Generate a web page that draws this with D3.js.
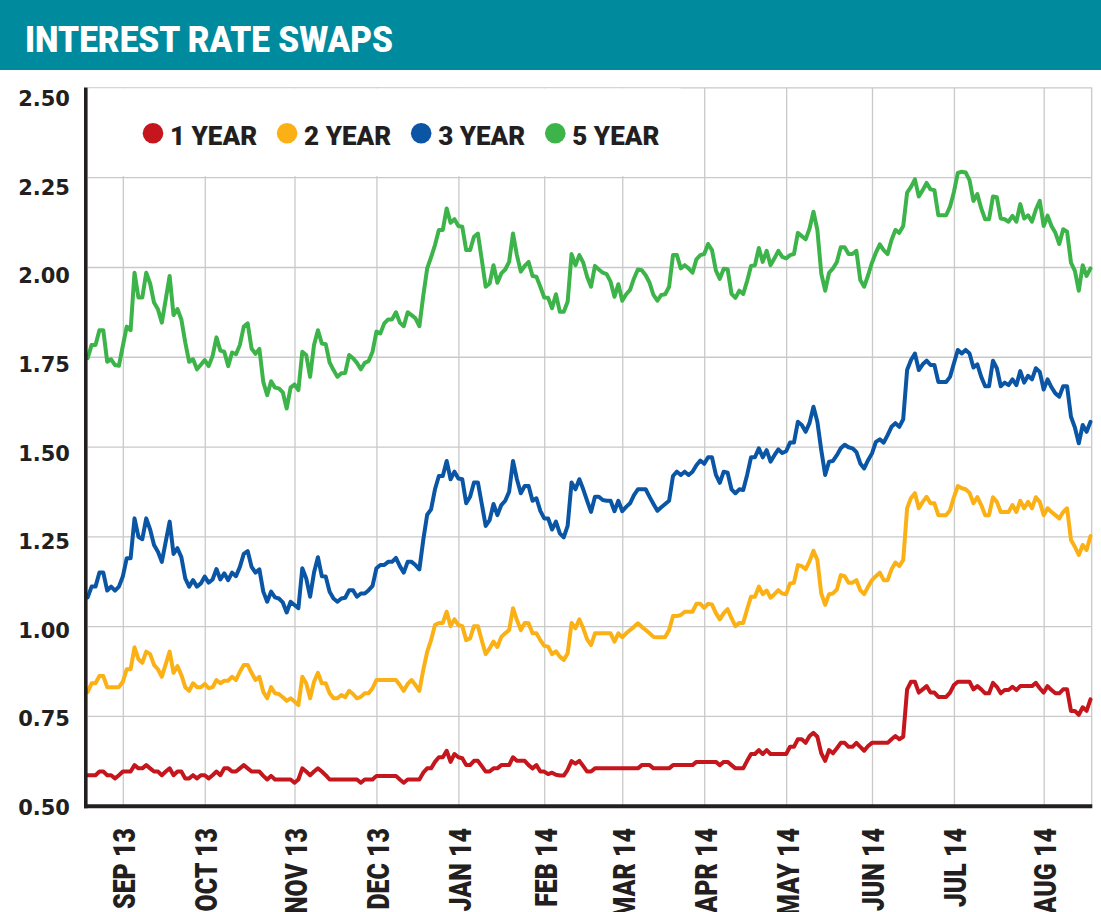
<!DOCTYPE html>
<html>
<head>
<meta charset="utf-8">
<title>Interest rate swaps</title>
<style>
  body { margin: 0; background: #fff; }
  .grid line { stroke: #c9c9c9; stroke-width: 1.3px; }
  .grid path { display: none; }
  .rate { fill: none; stroke-width: 4px; stroke-linejoin: round; stroke-linecap: round; }
  .ylab { font-family: "DejaVu Sans", sans-serif; font-weight: bold; font-size: 21px; fill: #231f20; }
  .xlab { font-family: Roboto, sans-serif; font-weight: 900; font-size: 32px; fill: #231f20; }
  .leg { font-family: Roboto, sans-serif; font-weight: 900; font-size: 26px; fill: #231f20; }
  .title { font-family: Roboto, sans-serif; font-weight: 900; font-size: 36px; fill: #fff; }
</style>
<script src="https://d3js.org/d3.v7.min.js"></script>
</head>
<body>
<svg id="chart"></svg>
<script>
// trading-day index of the first day of each month
var monthIdx = [9, 30, 53, 74, 95, 117, 137, 158, 179, 201, 222, 245];
var monthLabels = ["SEP 13","OCT 13","NOV 13","DEC 13","JAN 14","FEB 14","MAR 14","APR 14","MAY 14","JUN 14","JUL 14","AUG 14"];
var yTicks = [0.50, 0.75, 1.00, 1.25, 1.50, 1.75, 2.00, 2.25, 2.50];

var seriesNames = ["1 YEAR", "2 YEAR", "3 YEAR", "5 YEAR"];
var seriesColors = ["#c4161c", "#fbb116", "#0a56a5", "#3cb44a"];

// one value per trading day
var rate1 = [
0.585,0.585,0.585,0.595,0.595,0.585,0.585,0.576,0.585,0.595,
0.595,0.595,0.613,0.604,0.604,0.613,0.604,0.595,0.595,0.585,
0.595,0.604,0.585,0.595,0.595,0.576,0.576,0.585,0.576,0.585,
0.585,0.576,0.585,0.595,0.585,0.604,0.604,0.595,0.595,0.604,
0.613,0.604,0.595,0.595,0.595,0.583,0.573,0.583,0.573,0.573,
0.573,0.573,0.573,0.564,0.573,0.604,0.595,0.585,0.595,0.604,
0.595,0.585,0.573,0.573,0.573,0.573,0.573,0.573,0.573,0.573,
0.564,0.573,0.573,0.573,0.583,0.583,0.583,0.583,0.583,0.583,
0.573,0.564,0.573,0.573,0.573,0.573,0.592,0.604,0.604,0.622,
0.635,0.635,0.653,0.622,0.644,0.635,0.632,0.613,0.613,0.625,
0.625,0.610,0.595,0.595,0.604,0.604,0.613,0.613,0.613,0.635,
0.625,0.625,0.625,0.613,0.604,0.613,0.595,0.595,0.588,0.592,
0.586,0.584,0.584,0.600,0.624,0.617,0.625,0.610,0.595,0.595,
0.604,0.604,0.604,0.604,0.604,0.604,0.604,0.604,0.604,0.604,
0.604,0.604,0.613,0.613,0.613,0.604,0.604,0.604,0.604,0.604,
0.613,0.613,0.613,0.613,0.613,0.613,0.622,0.622,0.622,0.622,
0.622,0.622,0.613,0.622,0.622,0.613,0.604,0.604,0.604,0.625,
0.644,0.644,0.655,0.644,0.655,0.644,0.644,0.644,0.644,0.644,
0.664,0.664,0.685,0.685,0.675,0.694,0.703,0.692,0.646,0.625,
0.655,0.646,0.660,0.675,0.675,0.664,0.664,0.675,0.664,0.653,
0.666,0.675,0.675,0.675,0.675,0.675,0.685,0.694,0.685,0.692,
0.824,0.845,0.845,0.815,0.824,0.833,0.815,0.815,0.803,0.803,
0.803,0.815,0.836,0.845,0.845,0.845,0.845,0.824,0.833,0.824,
0.813,0.813,0.842,0.831,0.813,0.822,0.822,0.831,0.822,0.833,
0.833,0.833,0.833,0.842,0.827,0.815,0.833,0.822,0.813,0.813,
0.824,0.824,0.764,0.764,0.753,0.774,0.764,0.796];

var rate2 = [
0.817,0.841,0.841,0.861,0.861,0.830,0.830,0.830,0.830,0.845,
0.880,0.880,0.941,0.908,0.898,0.929,0.922,0.892,0.880,0.859,
0.894,0.929,0.870,0.889,0.864,0.830,0.820,0.841,0.830,0.830,
0.839,0.827,0.830,0.850,0.841,0.848,0.848,0.859,0.850,0.873,
0.892,0.892,0.870,0.850,0.859,0.817,0.799,0.830,0.813,0.811,
0.802,0.792,0.799,0.790,0.780,0.859,0.841,0.799,0.845,0.870,
0.841,0.841,0.813,0.799,0.799,0.808,0.802,0.820,0.811,0.799,
0.803,0.813,0.813,0.827,0.850,0.850,0.850,0.850,0.850,0.850,
0.836,0.820,0.839,0.850,0.836,0.820,0.878,0.928,0.961,1.003,
1.009,1.009,1.040,1.000,1.019,1.003,1.000,0.961,0.966,1.000,
1.000,0.960,0.922,0.938,0.957,0.942,0.970,0.980,0.989,1.050,
1.017,0.989,1.009,1.008,0.980,0.980,0.961,0.945,0.943,0.922,
0.930,0.915,0.906,0.924,1.009,0.994,1.019,0.994,0.963,0.947,
0.980,0.980,0.980,0.980,0.980,0.957,0.980,0.969,0.980,0.989,
0.998,1.008,0.998,0.989,0.980,0.970,0.969,0.969,0.970,0.989,
1.028,1.028,1.031,1.040,1.040,1.040,1.062,1.062,1.051,1.062,
1.060,1.036,1.019,1.036,1.047,1.022,1.000,1.009,1.009,1.047,
1.082,1.082,1.110,1.089,1.099,1.079,1.089,1.100,1.091,1.089,
1.119,1.121,1.170,1.167,1.159,1.181,1.210,1.184,1.091,1.059,
1.089,1.091,1.102,1.142,1.139,1.121,1.121,1.128,1.100,1.089,
1.110,1.128,1.139,1.149,1.128,1.128,1.158,1.177,1.167,1.184,
1.328,1.357,1.370,1.328,1.346,1.360,1.342,1.342,1.309,1.309,
1.309,1.323,1.359,1.390,1.384,1.381,1.371,1.342,1.359,1.337,
1.309,1.309,1.359,1.346,1.318,1.318,1.318,1.337,1.318,1.349,
1.328,1.346,1.328,1.359,1.346,1.309,1.328,1.318,1.309,1.300,
1.318,1.328,1.240,1.221,1.198,1.226,1.212,1.251];

var rate3 = [
1.080,1.110,1.110,1.149,1.149,1.099,1.110,1.099,1.110,1.138,
1.189,1.189,1.300,1.249,1.242,1.300,1.269,1.226,1.207,1.179,
1.235,1.291,1.201,1.217,1.192,1.133,1.110,1.128,1.110,1.119,
1.138,1.121,1.130,1.159,1.130,1.147,1.128,1.149,1.139,1.165,
1.201,1.209,1.165,1.149,1.158,1.096,1.068,1.096,1.080,1.077,
1.066,1.038,1.068,1.059,1.050,1.161,1.133,1.082,1.149,1.192,
1.139,1.138,1.096,1.077,1.068,1.077,1.079,1.100,1.100,1.082,
1.091,1.091,1.100,1.112,1.161,1.170,1.170,1.179,1.179,1.190,
1.167,1.149,1.179,1.179,1.170,1.158,1.240,1.310,1.325,1.381,
1.418,1.418,1.460,1.409,1.430,1.411,1.409,1.342,1.360,1.400,
1.400,1.340,1.279,1.295,1.340,1.309,1.337,1.349,1.374,1.460,
1.409,1.370,1.390,1.390,1.349,1.356,1.321,1.300,1.300,1.269,
1.291,1.258,1.247,1.279,1.400,1.381,1.409,1.381,1.349,1.318,
1.360,1.360,1.351,1.349,1.349,1.320,1.349,1.320,1.332,1.342,
1.365,1.381,1.381,1.381,1.360,1.340,1.321,1.331,1.340,1.349,
1.418,1.430,1.421,1.430,1.421,1.430,1.448,1.461,1.452,1.470,
1.470,1.421,1.399,1.430,1.427,1.381,1.370,1.381,1.379,1.421,
1.470,1.470,1.495,1.470,1.490,1.458,1.476,1.492,1.482,1.487,
1.511,1.511,1.569,1.560,1.541,1.566,1.611,1.569,1.490,1.421,
1.458,1.460,1.476,1.495,1.505,1.498,1.495,1.485,1.453,1.439,
1.462,1.481,1.513,1.520,1.511,1.532,1.555,1.565,1.555,1.576,
1.713,1.741,1.759,1.713,1.729,1.739,1.727,1.727,1.680,1.680,
1.680,1.694,1.732,1.769,1.759,1.769,1.759,1.720,1.729,1.694,
1.668,1.668,1.739,1.718,1.668,1.678,1.671,1.687,1.671,1.710,
1.678,1.697,1.687,1.718,1.708,1.659,1.687,1.665,1.648,1.639,
1.668,1.668,1.583,1.553,1.509,1.560,1.541,1.569];

var rate5 = [
1.746,1.783,1.783,1.824,1.824,1.736,1.743,1.727,1.725,1.780,
1.834,1.824,1.984,1.915,1.915,1.984,1.954,1.901,1.882,1.845,
1.910,1.975,1.866,1.883,1.854,1.790,1.736,1.743,1.715,1.728,
1.741,1.724,1.752,1.804,1.767,1.764,1.724,1.762,1.757,1.783,
1.834,1.843,1.773,1.758,1.772,1.680,1.643,1.682,1.664,1.662,
1.651,1.606,1.664,1.673,1.657,1.764,1.755,1.694,1.783,1.824,
1.787,1.785,1.734,1.713,1.694,1.704,1.705,1.755,1.746,1.733,
1.715,1.733,1.738,1.764,1.820,1.815,1.843,1.854,1.854,1.874,
1.845,1.835,1.874,1.866,1.857,1.835,1.920,1.996,2.027,2.061,
2.103,2.103,2.163,2.123,2.133,2.114,2.112,2.047,2.047,2.084,
2.093,2.020,1.945,1.954,2.005,1.956,1.982,1.993,2.014,2.093,
2.033,1.987,2.003,2.014,1.975,1.973,1.945,1.915,1.914,1.885,
1.924,1.875,1.875,1.903,2.036,2.005,2.033,2.012,1.973,1.945,
2.003,1.993,1.984,1.980,1.959,1.917,1.952,1.906,1.924,1.936,
1.968,1.993,1.991,1.977,1.956,1.922,1.906,1.922,1.924,1.945,
2.033,2.033,1.996,2.005,1.996,1.984,2.021,2.033,2.036,2.064,
2.047,1.990,1.967,1.995,1.994,1.925,1.914,1.934,1.925,1.961,
2.003,2.005,2.053,2.014,2.045,2.005,2.024,2.045,2.028,2.024,
2.033,2.036,2.095,2.086,2.077,2.107,2.154,2.103,1.982,1.934,
1.984,1.996,2.014,2.055,2.055,2.036,2.036,2.045,1.964,1.945,
1.977,2.012,2.040,2.063,2.047,2.036,2.075,2.103,2.095,2.114,
2.207,2.223,2.244,2.196,2.214,2.234,2.216,2.214,2.144,2.144,
2.144,2.168,2.209,2.262,2.265,2.263,2.242,2.184,2.203,2.163,
2.133,2.133,2.196,2.194,2.135,2.133,2.126,2.142,2.126,2.175,
2.135,2.144,2.126,2.160,2.184,2.114,2.143,2.114,2.095,2.064,
2.105,2.098,2.012,1.989,1.934,2.005,1.975,1.996];

var series = [rate1, rate2, rate3, rate5];

var width = 1101, height = 912,
    plotL = 87.7, plotR = 1091.7, plotT = 87.4, plotB = 805.7;

var svg = d3.select("#chart").attr("width", width).attr("height", height);

//header band
svg.append("rect").attr("x", 0).attr("y", 0).attr("width", width).attr("height", 70).attr("fill", "#008a9e");
svg.append("text").attr("class", "title").attr("x", 25).attr("y", 52)
    .attr("textLength", 368).attr("lengthAdjust", "spacingAndGlyphs")
    .text("INTEREST RATE SWAPS");

var x = d3.scaleLinear().domain([0, rate1.length - 1]).range([plotL, 1090.5]);
var y = d3.scaleLinear().domain([0.5, 2.5]).range([plotB, plotT]);
//tick labels sit on their own slightly compressed ramp, as in the original
var yLab = d3.scaleLinear().domain([0.5, 2.5]).range([815, 106]);

//grid
svg.append("g").attr("class", "grid")
    .attr("transform", "translate(0," + plotB + ")")
    .call(d3.axisBottom(x).tickValues(monthIdx).tickSize(-(plotB - plotT)).tickFormat(""));
svg.append("g").attr("class", "grid")
    .attr("transform", "translate(" + plotL + ",0)")
    .call(d3.axisLeft(y).tickValues(yTicks.slice(1)).tickSize(-(plotR - plotL)).tickFormat(""));
svg.append("line").attr("x1", plotR).attr("x2", plotR).attr("y1", plotT).attr("y2", plotB)
    .attr("stroke", "#c9c9c9").attr("stroke-width", 1.3);

//legend panel hides the grid behind it
svg.append("rect").attr("x", plotL + 1).attr("y", plotT + 1)
    .attr("width", 592).attr("height", y(2.25) - plotT - 2).attr("fill", "#fff");

//lines
var line = d3.line().x(function(d, i) { return x(i); }).y(function(d) { return y(d); });
svg.append("g").selectAll("path").data(series.slice().reverse()).enter()
    .append("path").attr("class", "rate")
    .attr("stroke", function(d, i) { return seriesColors[series.length - 1 - i]; })
    .attr("d", line);

//axes frame
svg.append("line").attr("x1", 85.8).attr("x2", 85.8).attr("y1", plotT).attr("y2", 808.3)
    .attr("stroke", "#231f20").attr("stroke-width", 3.6);
svg.append("line").attr("x1", 84).attr("x2", plotR + 0.6).attr("y1", 806.3).attr("y2", 806.3)
    .attr("stroke", "#231f20").attr("stroke-width", 4);

//y labels
svg.append("g").selectAll("text").data(yTicks).enter()
    .append("text").attr("class", "ylab")
    .attr("text-anchor", "end").attr("x", 70)
    .attr("y", function(d) { return yLab(d); })
    .text(function(d) { return d3.format(".2f")(d); });

//x labels
svg.append("g").selectAll("text").data(monthIdx).enter()
    .append("text").attr("class", "xlab")
    .attr("text-anchor", "end")
    .attr("transform", function(d) { return "translate(" + (x(d) + 12.5) + ",828) rotate(-90) scale(0.78,1)"; })
    .text(function(d, i) { return monthLabels[i]; });

//legend
var legend = svg.append("g");
var cx = 153;
seriesNames.forEach(function(name, i) {
    legend.append("circle").attr("cx", cx).attr("cy", 133.3).attr("r", 10.3).attr("fill", seriesColors[i]);
    var t = legend.append("text").attr("class", "leg").attr("x", cx + 17).attr("y", 145).text(name);
    cx = cx + 17 + t.node().getComputedTextLength() + 30;
});
</script>
</body>
</html>
